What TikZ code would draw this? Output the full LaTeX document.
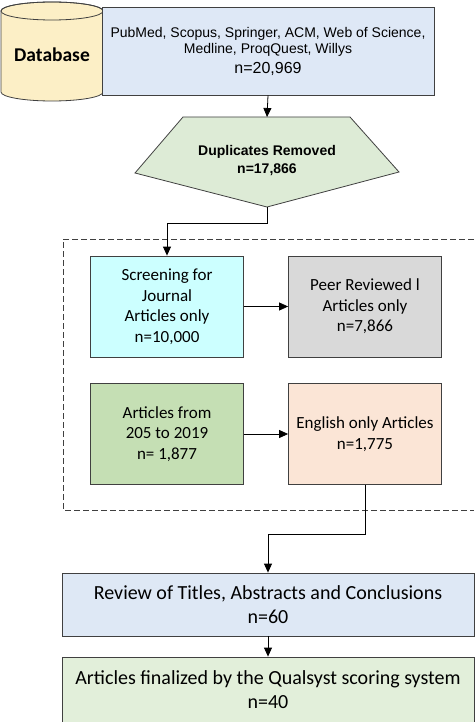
\documentclass[tikz,border=0pt]{standalone}
\usepackage{fontspec}
\setmainfont{Carlito}
\newfontfamily\arialfont{Liberation Sans}
\usetikzlibrary{arrows.meta}

\definecolor{boxline}{HTML}{404040}
\definecolor{dbfill}{HTML}{FCEFC6}
\definecolor{srcfill}{HTML}{DEE8F6}
\definecolor{dupfill}{HTML}{DDEBD6}
\definecolor{scrfill}{HTML}{CCFFFF}
\definecolor{peerfill}{HTML}{D9D9D9}
\definecolor{yrsfill}{HTML}{C5DFB4}
\definecolor{engfill}{HTML}{FBE5D6}
\definecolor{revfill}{HTML}{DEE8F5}
\definecolor{finfill}{HTML}{E2EFDA}

\tikzset{
    box/.style={draw=boxline, line width=0.8pt, align=center, inner sep=0pt,
        font=\fontsize{17}{20.5}\selectfont},
    smallbox/.style={box, minimum width=153pt, minimum height=101pt},
    widebox/.style={box, minimum width=412pt, font=\fontsize{20}{24}\selectfont},
    arr/.style={-{Triangle[length=9pt,width=8pt]}, line width=0.8pt},
}

\begin{document}
\begin{tikzpicture}[x=1pt,y=1pt]
                    % \helpgrid{3}{3}
                    \useasboundingbox (0,0) rectangle (474,-722);

                    % database cylinder
                    \draw[draw=boxline, fill=dbfill, line width=0.8pt] (1,-11) -- (1,-92)
                        arc[start angle=180, end angle=360, x radius=51, y radius=9]
                        -- (103,-11) arc[start angle=0, end angle=180, x radius=51, y radius=9] -- cycle;
                    \draw[draw=boxline, line width=0.8pt] (52,-11) ellipse[x radius=51, y radius=9];
                    \node (db) at (52,-55) {\fontsize{19.5}{22}\selectfont\bfseries Database};

                    \node[box, fill=srcfill, minimum width=332pt, minimum height=88pt,
                        font=\arialfont\fontsize{14}{16}\selectfont] (src) at (268,-51)
                        {PubMed, Scopus, Springer, ACM, Web of Science,\\
                         Medline, ProqQuest, Willys\\[4pt]
                         {\fontsize{16}{16}\selectfont n=20,969}};

                    % duplicates removed
                    \coordinate (duptop) at (267,-117);
                    \coordinate (dupbot) at (267,-207);
                    \draw[draw=boxline, fill=dupfill, line width=0.8pt] (183,-117) -- (350,-117)
                        -- (399,-172) -- (dupbot) -- (135,-173) -- cycle;
                    \node[align=center, font=\arialfont\bfseries\fontsize{14}{18}\selectfont] (dup)
                        at (267,-161) {Duplicates Removed\\n=17,866};

                    \draw[arr] (src.south) -- (duptop);

                    % screening stage
                    \draw[dash pattern=on 6pt off 3pt, line width=0.8pt, draw=boxline]
                        (474,-239) -- (63,-239) -- (63,-510) -- (474,-510);

                    \node[smallbox, fill=scrfill] (scr) at (167,-306.5)
                        {Screening for\\Journal\\Articles only\\n=10,000};
                    \node[smallbox, fill=peerfill] (peer) at (365,-306.5)
                        {Peer Reviewed l\\Articles only\\n=7,866};
                    \node[smallbox, fill=yrsfill] (yrs) at (167,-434)
                        {Articles from\\205 to 2019\\n= 1,877};
                    \node[smallbox, fill=engfill] (eng) at (365,-434)
                        {English only Articles\\n=1,775};

                    \draw[arr] (dupbot) -- ++(0,-16) -| (scr.north);
                    \draw[arr] (scr) -- (peer);
                    \draw[arr] (yrs) -- (eng);

                    % final steps
                    \node[widebox, fill=revfill, minimum height=63pt] (rev) at (268,-604.5)
                        {Review of Titles, Abstracts and Conclusions\\n=60};
                    \node[widebox, fill=finfill, minimum height=66pt] (fin) at (268,-690)
                        {Articles finalized by the Qualsyst scoring system\\n=40};

                    \draw[arr] (eng.south) -- ++(0,-49) -| (rev.north);
                    \draw[arr] (rev) -- (fin);

                \end{tikzpicture}
\end{document}
